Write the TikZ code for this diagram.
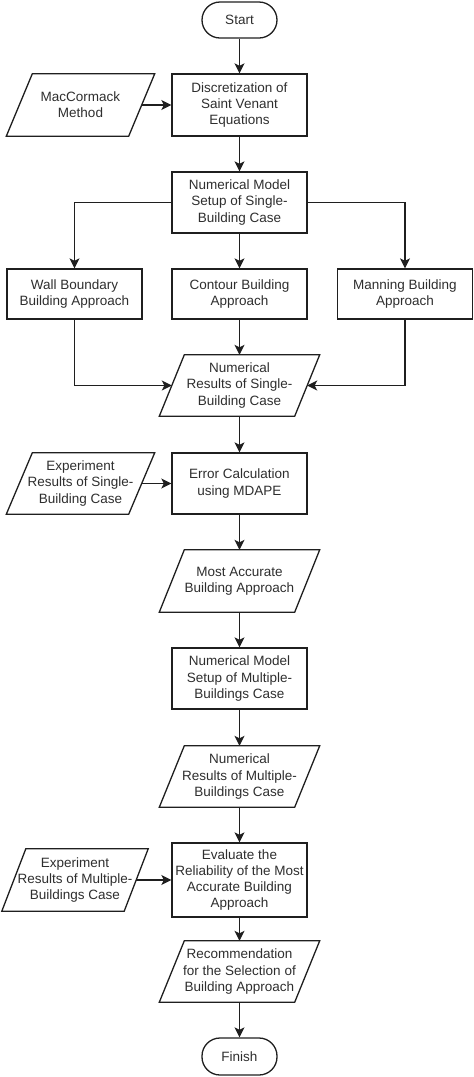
\documentclass[tikz,border=0pt]{standalone}
\usepackage{fontspec}
\setmainfont{Liberation Sans}
\usetikzlibrary{arrows.meta}
\tikzset{
  base/.style={inner sep=0pt, align=center, text=black!82, font=\fontsize{13.5}{16.2}\selectfont},
  procbox/.style={base, draw=black!88, line width=1.3pt, minimum width=135pt},
  iobox/.style={base, minimum width=#1},
  termbox/.style={base, draw=black!88, line width=1.3pt, minimum width=75pt, rounded corners=18pt},
  conn/.style={draw=black!88, line width=1.3pt, -{Stealth[length=10pt,width=10pt,inset=2.5pt]}},
  outline/.style={draw=black!88, line width=1.3pt, line join=miter}
}
\newcommand\ioshape[2]{\draw[outline] ([xshift=-#2pt]#1.south west) -- ([xshift=-#2pt]#1.south east) -- ([xshift=#2pt]#1.north east) -- ([xshift=#2pt]#1.north west) -- cycle;}
\begin{document}
\begin{tikzpicture}[x=1pt,y=-1pt]
\useasboundingbox (0,0) rectangle (474,1077);
% terminals
\node[termbox, minimum height=36pt] (start) at (239.5,20) {Start};
\node[termbox, minimum height=37pt] (finish) at (239.5,1056.5) {Finish};
% process boxes
\node[procbox, minimum height=62pt] (disc) at (239.5,105) {Discretization of\\Saint Venant\\Equations};
\node[procbox, minimum height=61pt] (setup) at (239.5,202.5) {Numerical Model\\Setup of Single-\\Building Case};
\node[procbox, minimum height=50pt] (wall) at (74.5,294) {Wall Boundary\\Building Approach};
\node[procbox, minimum height=50pt] (contour) at (239.5,294) {Contour Building\\Approach};
\node[procbox, minimum height=50pt] (manning) at (405,294) {Manning Building\\Approach};
\node[procbox, minimum height=61pt] (err) at (239.5,483.5) {Error Calculation\\using MDAPE};
\node[procbox, minimum height=61pt] (setupm) at (239.5,678.5) {Numerical Model\\Setup of Multiple-\\Buildings Case};
\node[procbox, minimum height=74pt] (eval) at (239.5,880) {Evaluate the\\Reliability of the Most\\Accurate Building\\Approach};
% input/output
\node[iobox=122pt, minimum height=62pt] (mac) at (80.5,105) {MacCormack\\Method};
\node[iobox=135pt, minimum height=61pt] (numres) at (239.5,385.5) {Numerical\\Results of Single-\\Building Case};
\node[iobox=122pt, minimum height=61pt] (exps) at (80.5,483.5) {Experiment\\Results of Single-\\Building Case};
\node[iobox=135pt, minimum height=62pt] (most) at (239.5,581) {Most Accurate\\Building Approach};
\node[iobox=135pt, minimum height=61pt] (numresm) at (239.5,776.5) {Numerical\\Results of Multiple-\\Buildings Case};
\node[iobox=122pt, minimum height=62pt] (expm) at (75,880) {Experiment\\Results of Multiple-\\Buildings Case};
\node[iobox=135pt, minimum height=61pt] (rec) at (239.5,971.5) {Recommendation\\for the Selection of\\Building Approach};
\ioshape{mac}{13}
\ioshape{numres}{12.5}
\ioshape{exps}{13}
\ioshape{most}{12.5}
\ioshape{numresm}{12.5}
\ioshape{expm}{12}
\ioshape{rec}{12.5}
% connectors
\draw[conn] (start) -- (disc);
\draw[conn] (mac.east) -- (disc.west);
\draw[conn] (disc) -- (setup);
\draw[conn] (setup.west) -| (wall.north);
\draw[conn] (setup) -- (contour);
\draw[conn] (setup.east) -| (manning.north);
\draw[conn] (wall.south) |- (numres.west);
\draw[conn] (contour) -- (numres);
\draw[conn] (manning.south) |- (numres.east);
\draw[conn] (numres) -- (err);
\draw[conn] (exps.east) -- (err.west);
\draw[conn] (err) -- (most);
\draw[conn] (most) -- (setupm);
\draw[conn] (setupm) -- (numresm);
\draw[conn] (numresm) -- (eval);
\draw[conn] (expm.east) -- (eval.west);
\draw[conn] (eval) -- (rec);
\draw[conn] (rec) -- (finish);
\end{tikzpicture}
\end{document}
